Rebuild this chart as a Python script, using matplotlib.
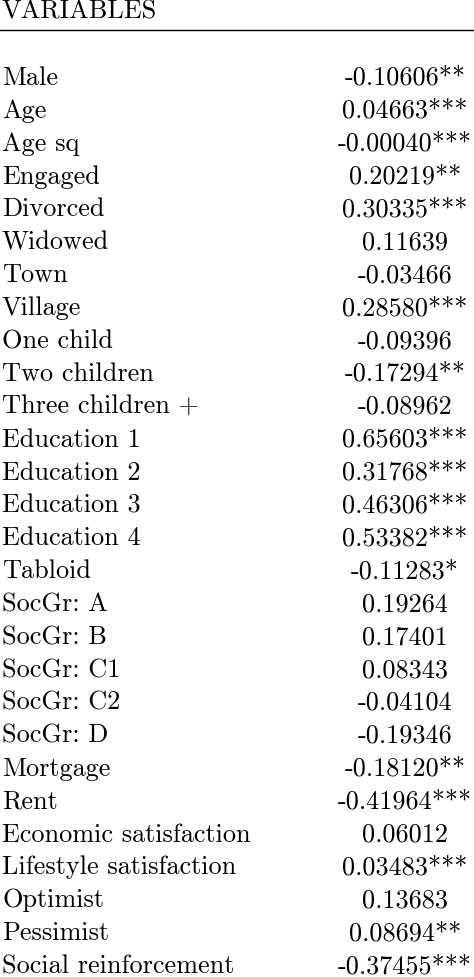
import matplotlib.pyplot as plt

variables = ["Male", "Age", "Age sq", "Engaged", "Divorced", "Widowed", "Town", "Village",
             "One child", "Two children", "Three children +", "Education 1", "Education 2",
             "Education 3", "Education 4", "Tabloid", "SocGr: A", "SocGr: B", "SocGr: C1",
             "SocGr: C2", "SocGr: D", "Mortgage", "Rent", "Economic satisfaction",
             "Lifestyle satisfaction", "Optimist", "Pessimist", "Social reinforcement"]
coefs = ["-0.10606**", "0.04663***", "-0.00040***", "0.20219**", "0.30335***", "0.11639",
         "-0.03466", "0.28580***", "-0.09396", "-0.17294**", "-0.08962", "0.65603***",
         "0.31768***", "0.46306***", "0.53382***", "-0.11283*", "0.19264", "0.17401",
         "0.08343", "-0.04104", "-0.19346", "-0.18120**", "-0.41964***", "0.06012",
         "0.03483***", "0.13683", "0.08694**", "-0.37455***"]

plt.rcParams['font.family'] = ['cmr10', 'DejaVu Serif']
W, H = 474, 977
fig = plt.figure(figsize=(W / 100, H / 100), dpi=100)
ax = fig.add_axes([0, 0, 1, 1])
ax.set_xlim(0, W)
ax.set_ylim(H, 0)
ax.axis('off')

fs = 18.9
ax.text(2, 12, "VARIABLES", fontsize=fs, va='center', ha='left')
ax.plot([0, W], [30, 30], color='black', lw=1)
for i, (v, c) in enumerate(zip(variables, coefs)):
    y = 78 + i * 32.9
    ax.text(2, y, v, fontsize=fs, va='center', ha='left')
    ax.text(405, y, c, fontsize=fs, va='center', ha='center')

fig.savefig("out.png", dpi=100)
